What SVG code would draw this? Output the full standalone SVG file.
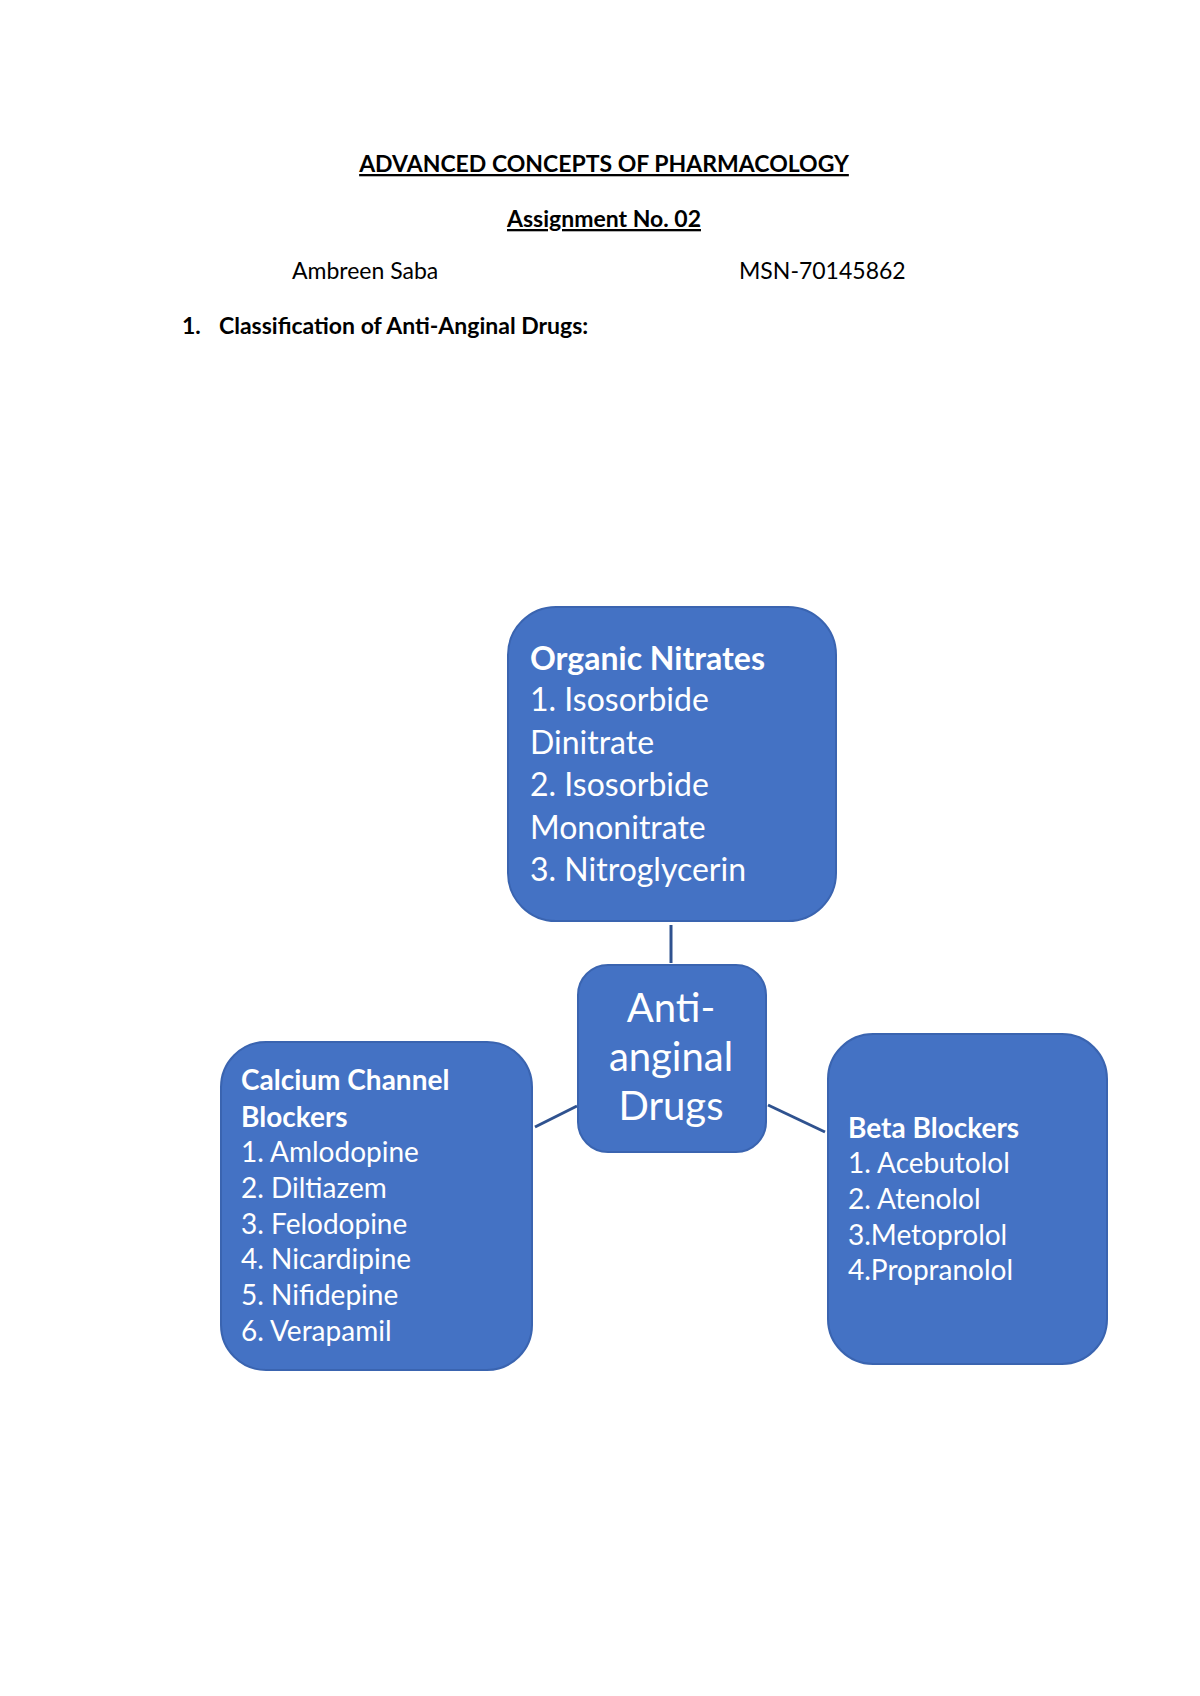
<svg xmlns="http://www.w3.org/2000/svg" width="1200" height="1696" viewBox="0 0 1200 1696">
<style>
.h{font-family:Lato,"Liberation Sans",sans-serif;font-size:23px;fill:#000}
.b{fill:#4472C4;stroke:#3A64B0;stroke-width:2}
.t{font-family:Lato,"Liberation Sans",sans-serif;fill:#fff}
.c{stroke:#2F528F;stroke-width:3;fill:none}
</style>
<rect width="1200" height="1696" fill="#fff"/>
<g id="header">
<text class="h" x="604" y="172" text-anchor="middle" font-weight="bold" text-decoration="underline">ADVANCED CONCEPTS OF PHARMACOLOGY</text>
<text class="h" x="604" y="227" text-anchor="middle" font-weight="bold" text-decoration="underline">Assignment No. 02</text>
<text class="h" x="292" y="279">Ambreen Saba</text>
<text class="h" x="739" y="279">MSN-70145862</text>
<text class="h" x="182" y="334" font-weight="bold">1.</text>
<text class="h" x="219" y="334" font-weight="bold">Classification of Anti-Anginal Drugs:</text>
</g>
<g id="connectors">
<line class="c" x1="671" y1="925" x2="671" y2="963"/>
<line class="c" x1="535" y1="1127" x2="577" y2="1106"/>
<line class="c" x1="768" y1="1105" x2="825" y2="1132"/>
</g>
<g id="organic">
<rect class="b" x="508" y="607" width="328" height="314" rx="48"/>
<text class="t" font-size="32"><tspan x="530" y="670" font-weight="bold">Organic Nitrates</tspan><tspan x="530" y="711">1. Isosorbide</tspan><tspan x="530" y="754">Dinitrate</tspan><tspan x="530" y="796">2. Isosorbide</tspan><tspan x="530" y="839">Mononitrate</tspan><tspan x="530" y="881">3. Nitroglycerin</tspan></text>
</g>
<g id="center">
<rect class="b" x="578" y="965" width="188" height="187" rx="30"/>
<text class="t" font-size="40" text-anchor="middle"><tspan x="671" y="1022">Anti-</tspan><tspan x="671" y="1071">anginal</tspan><tspan x="671" y="1120">Drugs</tspan></text>
</g>
<g id="calcium">
<rect class="b" x="221" y="1042" width="311" height="328" rx="45"/>
<text class="t" font-size="28"><tspan x="241" y="1090" font-weight="bold">Calcium Channel</tspan><tspan x="241" y="1127" font-weight="bold">Blockers</tspan><tspan x="241" y="1162">1. Amlodopine</tspan><tspan x="241" y="1198">2. Diltiazem</tspan><tspan x="241" y="1234">3. Felodopine</tspan><tspan x="241" y="1269">4. Nicardipine</tspan><tspan x="241" y="1305">5. Nifidepine</tspan><tspan x="241" y="1341">6. Verapamil</tspan></text>
</g>
<g id="beta">
<rect class="b" x="828" y="1034" width="279" height="330" rx="45"/>
<text class="t" font-size="28"><tspan x="848" y="1138" font-weight="bold">Beta Blockers</tspan><tspan x="848" y="1173">1. Acebutolol</tspan><tspan x="848" y="1209">2. Atenolol</tspan><tspan x="848" y="1245">3.Metoprolol</tspan><tspan x="848" y="1280">4.Propranolol</tspan></text>
</g>
</svg>
